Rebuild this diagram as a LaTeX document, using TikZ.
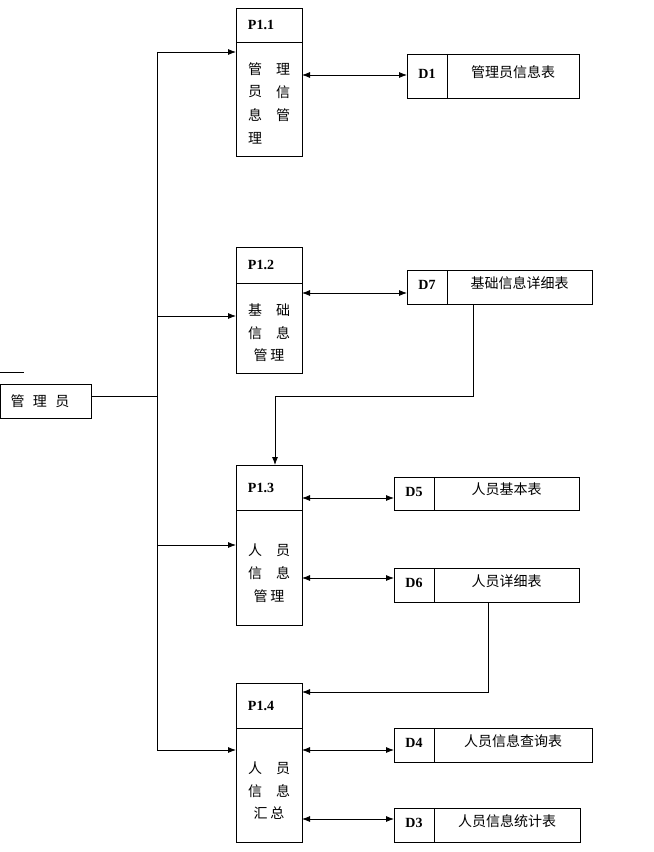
\documentclass[tikz,border=0pt]{standalone}
\usepackage{fontspec}
\setmainfont{Liberation Serif}
\newfontfamily\cjk{Noto Sans CJK SC}
\usetikzlibrary{arrows.meta}
\begin{document}
\begin{tikzpicture}[x=0.75pt,y=-0.75pt,
  bx/.style={draw,line width=0.6pt},
  ln/.style={line width=0.6pt},
  ar/.style={ln,-{Latex[length=6pt,width=4.5pt]}},
  da/.style={ln,{Latex[length=6pt,width=4.5pt]}-{Latex[length=6pt,width=4.5pt]}},
  lab/.style={font=\fontsize{10.5pt}{12pt}\selectfont},
  ck/.style={font=\cjk\fontsize{10.5pt}{12pt}\selectfont}]
\useasboundingbox (0,0) rectangle (653,852);
% admin
\draw[bx] (0,384) rectangle (91,418);
\node[ck] (adm) at (40,401) {管\hspace{0.6em}理\hspace{0.6em}员};
\draw[ln] (0,372) -- (24,372);
\coordinate (admR) at (91,396);
\coordinate (tA) at (157,396);
\coordinate (t1) at (157,52);
\coordinate (t4) at (157,750);
\draw[ln] (admR) -- (tA);
\draw[ln] (t1) -- (t4);
% processes
\newcommand{\proc}[7]{%
  \draw[bx] (236,#2) rectangle (302,#4);
  \draw[ln] (236,#3) -- (302,#3);
  \node[lab,font=\bfseries\fontsize{10.5pt}{12pt}\selectfont] (#1) at (261,{(#2+#3)/2}) {#5};
  \coordinate (#1L) at (236,#6);
  \draw[ar] (157,#6) -- (#1L);
}
\proc{p1}{8}{42}{156}{P1.1}{52}{}
\proc{p2}{247}{283}{373}{P1.2}{316}{}
\proc{p3}{465}{510}{625}{P1.3}{545}{}
\proc{p4}{683}{728}{842}{P1.4}{750}{}
% process texts
\node[ck] at (255,69) {管}; \node[ck] at (283,69) {理};
\node[ck] at (255,92) {员}; \node[ck] at (283,92) {信};
\node[ck] at (255,115) {息}; \node[ck] at (283,115) {管};
\node[ck] at (255,138) {理};
\node[ck] at (255,310) {基}; \node[ck] at (283,310) {础};
\node[ck] at (269,333) {信\hspace{1em}息};
\node[ck] at (269,355) {管\hspace{0.2em}理};
\node[ck] at (269,550) {人\hspace{1em}员};
\node[ck] at (269,573) {信\hspace{1em}息};
\node[ck] at (269,596) {管\hspace{0.2em}理};
\node[ck] at (269,768) {人\hspace{1em}员};
\node[ck] at (269,791) {信\hspace{1em}息};
\node[ck] at (269,813) {汇\hspace{0.2em}总};
% data stores
\newcommand{\store}[8]{%
  \draw[bx] (#2,#4) rectangle (#3,#5);
  \draw[ln] (#6,#4) -- (#6,#5);
  \node[lab,font=\bfseries\fontsize{10.5pt}{12pt}\selectfont] (#1) at ({(#2+#6)/2},{(#4+#5)/2-2}) {#7};
  \node[ck] at ({(#6+#3)/2},{(#4+#5)/2-4}) {#8};
}
\store{d1}{407}{579}{54}{98}{447}{D1}{管理员信息表}
\store{d7}{407}{592}{270}{304}{447}{D7}{基础信息详细表}
\store{d5}{394}{579}{477}{510}{434}{D5}{人员基本表}
\store{d6}{394}{579}{568}{602}{434}{D6}{人员详细表}
\store{d4}{394}{592}{728}{762}{434}{D4}{人员信息查询表}
\store{d3}{394}{580}{808}{842}{434}{D3}{人员信息统计表}
% double arrows
\draw[da] (302,75) -- (407,75);
\draw[da] (302,293) -- (407,293);
\draw[da] (302,498) -- (394,498);
\draw[da] (302,578) -- (394,578);
\draw[da] (302,750) -- (394,750);
\draw[da] (302,819) -- (394,819);
% flows
\draw[ar] (473,304) -- (473,396) -- (275,396) -- (275,465);
\draw[ar] (488,602) -- (488,692) -- (302,692);
\end{tikzpicture}
\end{document}
